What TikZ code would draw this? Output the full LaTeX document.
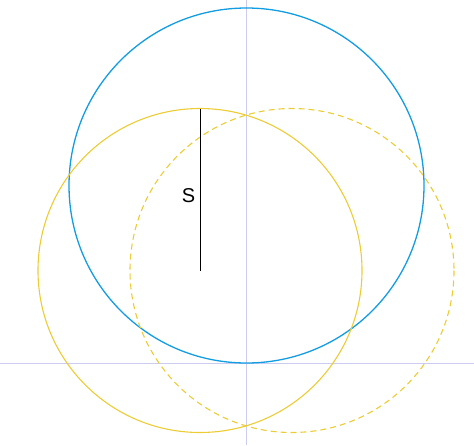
\documentclass[tikz,border=0pt]{standalone}
\usepackage{tikz}
\usepackage{fontspec}
\setmainfont{Liberation Sans}
\definecolor{bb}{RGB}{18, 156, 226}
\definecolor{yy}{RGB}{236, 204, 52}
\definecolor{ll}{RGB}{204, 204, 240}

\begin{document}
\begin{tikzpicture}[x=1pt, y=-1pt]
[every node/.style={inner sep=0pt}]
\useasboundingbox (0, 0) rectangle (474, 445);
\coordinate (top) at (246.5, 0.0);
\coordinate (bot) at (246.5, 445.0);
\coordinate (left) at (0.0, 363.0);
\coordinate (right) at (474.0, 363.0);
\coordinate (c1) at (246.5, 185.5);
\coordinate (c2) at (200.0, 270.5);
\coordinate (c3) at (292.0, 270.5);
\coordinate (s1) at (200.0, 108.5);
\draw [line width=0.6, color=ll] (top) to (bot);
\draw [line width=0.6, color=ll] (left) to (right);
\draw [line width=1.3, color=bb] (c1) circle (177.5);
\draw [line width=1.1, color=yy] (c2) circle (162.0);
\draw [line width=1.1, color=yy, dash pattern=on 6pt off 4pt] (c3) circle (162.0);
\draw [line width=1.0, color=black] (s1) to (c2);
\node (S) [inner sep=0pt] at (188.5, 195.5) {\fontsize{20}{22}\selectfont S};
\end{tikzpicture}
\end{document}
